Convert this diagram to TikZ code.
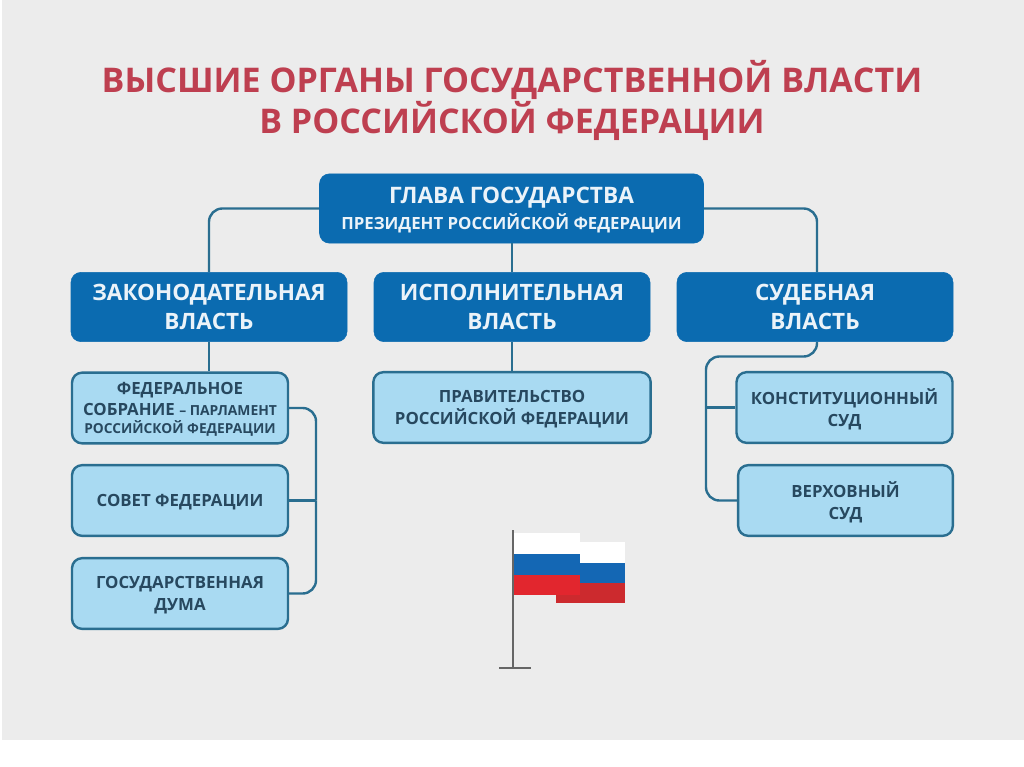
\documentclass[tikz,border=0pt]{standalone}
\usepackage{fontspec}
\setmainfont{Open Sans}
\usetikzlibrary{calc}
\definecolor{bluedark}{HTML}{0B6BB0}
\definecolor{bluelight}{HTML}{A9DAF2}
\definecolor{lineblue}{HTML}{2A6E90}
\definecolor{inkdark}{HTML}{27485F}
\definecolor{titlered}{HTML}{BE3F50}
\definecolor{flagblue}{HTML}{1467B4}
\definecolor{flagred}{HTML}{E2262E}
\definecolor{flagredlow}{HTML}{CC2A2E}
\tikzset{
  power/.style={draw=bluedark, fill=bluedark, rounded corners=7.5pt, text=white!92!bluedark, font=\bfseries\fontsize{16.9}{21.5}\selectfont, align=center, inner sep=0pt, text depth=0pt},
  organ/.style={draw=lineblue, line width=1.8pt, fill=bluelight, rounded corners=7.5pt, text=inkdark, font=\bfseries\fontsize{12.6}{16.5}\selectfont, align=center, inner sep=0pt, text depth=0pt},
  link/.style={draw=lineblue, line width=1.8pt, rounded corners=10pt}
}
\begin{document}
\begin{tikzpicture}[x=0.75pt, y=-0.75pt]
    \useasboundingbox (0,0) rectangle (1024,767);
    \fill[white] (0,0) rectangle (1024,767);
    \fill[black!7.5] (2,0) rectangle (1024,740);

    \node[text=titlered, font=\bfseries\fontsize{25.5}{30.5}\selectfont, align=center] (title) at (512,100.5) {ВЫСШИЕ ОРГАНЫ ГОСУДАРСТВЕННОЙ ВЛАСТИ\\В РОССИЙСКОЙ ФЕДЕРАЦИИ};

    % connectors are drawn after the boxes, from side to side
    \node[power, minimum width=288pt, minimum height=52pt, font=\bfseries\fontsize{17}{19.5}\selectfont] (head) at (511.5,208.5) {ГЛАВА ГОСУДАРСТВА\\{\fontsize{12.6}{16}\selectfont ПРЕЗИДЕНТ РОССИЙСКОЙ ФЕДЕРАЦИИ}};
    \node[power, minimum width=207pt, minimum height=52pt] (legis) at (209,307) {ЗАКОНОДАТЕЛЬНАЯ\\ВЛАСТЬ};
    \node[power, minimum width=207pt, minimum height=52pt] (exec) at (512,307) {ИСПОЛНИТЕЛЬНАЯ\\ВЛАСТЬ};
    \node[power, minimum width=207pt, minimum height=52pt] (court) at (815,307) {СУДЕБНАЯ\\ВЛАСТЬ};

    \node[organ, minimum width=162pt, minimum height=53pt] (assembly) at (180,408) {ФЕДЕРАЛЬНОЕ\\[-1pt]СОБРАНИЕ {\fontsize{10.4}{12}\selectfont – ПАРЛАМЕНТ}\\[-3pt]{\fontsize{10.3}{12}\selectfont РОССИЙСКОЙ ФЕДЕРАЦИИ}};
    \node[organ, minimum width=162pt, minimum height=53pt] (council) at (180,500.5) {СОВЕТ ФЕДЕРАЦИИ};
    \node[organ, minimum width=162pt, minimum height=53pt] (duma) at (180,593.5) {ГОСУДАРСТВЕННАЯ\\ДУМА};
    \node[organ, minimum width=208pt, minimum height=53pt] (gov) at (512,407.5) {ПРАВИТЕЛЬСТВО\\РОССИЙСКОЙ ФЕДЕРАЦИИ};
    \node[organ, minimum width=162pt, minimum height=53pt] (const) at (844.5,407.5) {КОНСТИТУЦИОННЫЙ\\СУД};
    \node[organ, minimum width=161pt, minimum height=53pt] (supreme) at (845.5,500.5) {ВЕРХОВНЫЙ\\СУД};

    \coordinate (courtin) at (817,272);
    \coordinate (courtout) at (817,342);
    \coordinate (busright) at (316,500.5);
    \coordinate (busleft) at (706,407.5);

    \draw[link] (head.west) -| (legis.north);
    \draw[link] (head.east) -| (courtin);
    \draw[link] (exec.north |- head.south) -- (exec.north);
    \draw[link] (legis.south) -- (legis.south |- assembly.north);
    \draw[link] (exec.south) -- (gov.north);
    \draw[link] (assembly.east) -| (busright);
    \draw[link] (duma.east) -| (busright);
    \draw[link] (council.east) -- (busright);
    \draw[link] (courtout) |- ($(busleft)+(0,-51)$) -- (busleft |- supreme.west) -- (supreme.west);
    \draw[link] (busleft) -- (const.west);

    % flag
    \fill[white] (514,533) rectangle (580,554);
    \fill[white] (580,542) rectangle (625,563);
    \fill[flagblue] (514,554) rectangle (580,575);
    \fill[flagblue] (580,563) rectangle (625,583);
    \fill[flagred] (514,575) rectangle (580,595);
    \fill[flagredlow] (556,583) rectangle (625,603);
    \fill[flagred] (556,575) rectangle (580,595);
    \coordinate (poletop) at (513,530);
    \coordinate (polefoot) at (513,668);
    \draw[black!60, line width=1.8pt] (poletop) -- (polefoot);
    \draw[black!60, line width=1pt] ($(polefoot)+(-14,0)$) -- ($(polefoot)+(18,0)$);
  \end{tikzpicture}
\end{document}
